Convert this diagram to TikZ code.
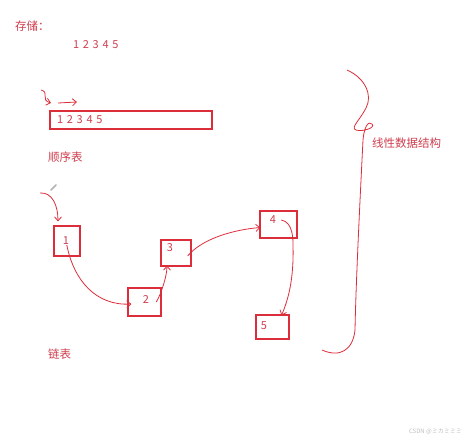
\documentclass[tikz,border=0pt]{standalone}
\usepackage{fontspec}
\setmainfont{Noto Sans CJK SC}
\newfontfamily\jpfont{Noto Sans CJK JP}
\usepackage{tikz}
\usetikzlibrary{arrows.meta,positioning}

\definecolor{penred}{RGB}{220,45,58}
\definecolor{inkred}{RGB}{206,62,78}

\tikzset{
  nodebox/.style={draw=penred, line width=1.2pt, inner sep=0pt},
  link/.style={draw=penred, line width=0.8pt, -{Straight Barb[length=4pt,width=7pt]}},
  redtext/.style={text=inkred, inner sep=0pt, font=\fontsize{11.5}{13}\selectfont},
  digits/.style={text=inkred, inner sep=0pt, font=\fontsize{11}{13}\selectfont}
}

\begin{document}
\begin{tikzpicture}[x=1pt,y=-1pt]
\useasboundingbox (0,0) rectangle (474,442);
\tikzstyle{every node}+=[inner sep=0pt]
% storage
\node [redtext, anchor=west] (store) at (15,26) {存储：};
\node [digits, anchor=west] (seqtop) at (73,45) {1\,\,2\,\,3\,\,4\,\,5};
% sequential list
\node [nodebox, minimum width=162pt, minimum height=18pt] (seq) at (131,120) {};
\node [digits, anchor=west] (seqnums) at (57,120) {1\,\,2\,\,3\,\,4\,\,5};
\coordinate (s0) at (41,90);
\coordinate (s1) at (51,103);
\coordinate (s2) at (58,103);
\coordinate (s3) at (77,102);
\draw [link] (s0) .. controls (50,92) and (40,100) .. (s1);
\draw [link] (s2) -- (s3);
\node [redtext, anchor=west] (seqname) at (48,157) {顺序表};
% linked list
\node [nodebox, minimum width=26pt, minimum height=30pt] (n1) at (67,241) {};
\node [nodebox, minimum width=33pt, minimum height=28pt] (n2) at (144.5,302) {};
\node [nodebox, minimum width=30pt, minimum height=26pt] (n3) at (176,253) {};
\node [nodebox, minimum width=37pt, minimum height=27pt] (n4) at (278.5,224.5) {};
\node [nodebox, minimum width=33pt, minimum height=24pt] (n5) at (272.5,327) {};
\node [digits] (t1) at (66,241) {1};
\node [digits] (t2) at (146,300) {2};
\node [digits] (t3) at (170,248) {3};
\node [digits] (t4) at (273,220) {4};
\node [digits] (t5) at (264,326) {5};
\draw [black!30, line width=1.6pt, line cap=round] (51,190) -- (56,185);
\coordinate (head) at (40,193);
\draw [link] (head) .. controls (52,192) and (58,205) .. ([xshift=-9pt,yshift=4pt]n1.north);
\draw [link] (t1) .. controls +(8,40) and +(-35,2) .. ([xshift=4pt,yshift=-2pt]n2.west);
\draw [link] ([xshift=7pt,yshift=-2pt]t2.east) .. controls +(5,-8) and +(0,10) .. ([xshift=-9pt,yshift=1pt]n3.south);
\draw [link] ([xshift=-4pt,yshift=-3pt]n3.east) .. controls +(15,-18) and +(-25,2) .. ([xshift=1pt,yshift=-3pt]n4.west);
\draw [link] ([xshift=5pt]t4.east) .. controls +(12,2) and +(0,-5) .. (293,245) .. controls (294,280) and (288,300) .. ([xshift=9pt,yshift=-1pt]n5.north);
\node [redtext, anchor=west] (linkname) at (48,354) {链表};
% brace
\draw [penred, line width=0.8pt] (347,70) .. controls (365,78) and (373,95) .. (366,108)
  .. controls (360,120) and (350,128) .. (356,130) .. controls (362,132) and (376,128) .. (372,124)
  .. controls (368,120) and (364,128) .. (363,140) .. controls (360,200) and (356,280) .. (355,330)
  .. controls (353,350) and (340,358) .. (322,350);
\node [redtext, anchor=west] (linear) at (372,143) {线性数据结构};
% watermark
\node [text=black!25, anchor=east, font=\jpfont\fontsize{6}{7}\selectfont] (mark) at (462,432) {CSDN @ミカミミミ};
\end{tikzpicture}
\end{document}
